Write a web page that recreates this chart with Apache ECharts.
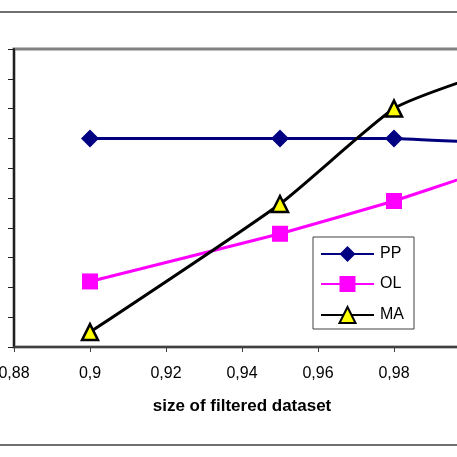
<!DOCTYPE html>
<html>
<head>
<meta charset="utf-8">
<script src="https://cdn.jsdelivr.net/npm/echarts@6/dist/echarts.min.js"></script>
<style>
html,body{margin:0;padding:0;background:#fff;}
#_chart{width:457px;height:457px;}
</style>
</head>
<body>
<div id="_chart"></div>
<script>
var sizes = [0.9, 0.95, 0.98, 1.0];
var ppValues = [7.0, 7.0, 7.0, 6.88];
var olValues = [2.2, 3.8, 4.9, 5.75];
var maValues = [0.5, 4.8, 8.0, 9.0];
var seriesNames = ['PP', 'OL', 'MA'];

function pairs(xs, ys){
	var out = [];
	for (var i = 0; i < xs.length; i++) out.push([xs[i], ys[i]]);
	return out;
}

var _chart = echarts.init(document.getElementById('_chart'));
var _chart_option = {
	animation: false,
	textStyle: {fontFamily: 'Liberation Sans, Arial, sans-serif'},
	graphic: [
		{type: 'line', shape: {x1: 0, y1: 12, x2: 457, y2: 12}, style: {stroke: '#404040', lineWidth: 1.5}},
		{type: 'line', shape: {x1: 0, y1: 445, x2: 457, y2: 445}, style: {stroke: '#404040', lineWidth: 1.5}}
	],
	grid: {
		left: 14, top: 49, width: 456, height: 298,
		outerBoundsMode: 'none',
		containLabel: false,
		show: true, borderColor: '#808080', borderWidth: 3
	},
	legend: {
		orient: 'vertical',
		left: 313, top: 237,
		padding: [9, 10, 5, 7],
		itemWidth: 53, itemHeight: 20, itemGap: 14,
		borderColor: '#404040', borderWidth: 1,
		backgroundColor: '#fff',
		textStyle: {fontSize: 16, color: '#000', padding: [0, 0, 0, 1]},
		data: seriesNames
	},
	xAxis: {
		type: 'value', min: 0.88, max: 1.0, interval: 0.02,
		name: 'size of filtered dataset',
		nameLocation: 'middle', nameGap: 51,
		nameTextStyle: {fontSize: 17, fontWeight: 'bold', color: '#000'},
		splitLine: {show: false},
		axisLine: {lineStyle: {color: '#404040', width: 2}},
		axisTick: {length: 5, lineStyle: {color: '#404040'}},
		axisLabel: {
			fontSize: 16, color: '#000', margin: 19,
			formatter: function(v){ return String(+v.toFixed(2)).replace('.', ','); }
		}
	},
	yAxis: {
		type: 'value', min: 0, max: 10, interval: 1,
		splitLine: {show: false},
		axisLine: {show: true, lineStyle: {color: '#202020', width: 2}},
		axisTick: {show: true, length: 6, lineStyle: {color: '#202020'}},
		axisLabel: {show: false}
	},
	series: [
		{
			name: 'PP', type: 'line', data: pairs(sizes, ppValues),
			smooth: 0.1,
			symbol: 'diamond', symbolSize: 18,
			lineStyle: {color: '#000080', width: 3},
			itemStyle: {color: '#000080'}
		},
		{
			name: 'OL', type: 'line', data: pairs(sizes, olValues),
			smooth: 0.1,
			symbol: 'rect', symbolSize: 16,
			lineStyle: {color: '#ff00ff', width: 3},
			itemStyle: {color: '#ff00ff'}
		},
		{
			name: 'MA', type: 'line', data: pairs(sizes, maValues),
			smooth: 0.18,
			symbol: 'triangle', symbolSize: 16,
			lineStyle: {color: '#000', width: 3},
			itemStyle: {color: '#ffff00', borderColor: '#000', borderWidth: 2.5}
		}
	]
};
_chart.setOption(_chart_option);
</script>
</body>
</html>
